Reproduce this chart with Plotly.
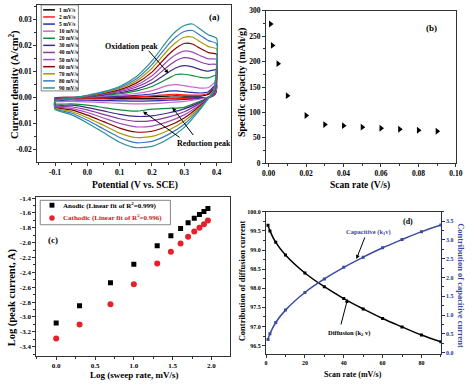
import plotly.graph_objects as go

W, H = 474, 387
FONT = "Liberation Serif"

# ---------------- data ----------------
# (a) cyclic voltammograms
CV_RATES = ["1 mV/s", "2 mV/s", "5 mV/s", "10 mV/s", "20 mV/s", "30 mV/s",
            "40 mV/s", "50 mV/s", "60 mV/s", "70 mV/s", "80 mV/s", "90 mV/s"]
CV_COLORS = ["#000000", "#ff1a1a", "#2b2bb0", "#cc66cc", "#138a3a", "#3a2f88",
             "#8a3aa0", "#a050b8", "#8b0000", "#a89a00", "#3a78c8", "#2a9090"]
E_FWD = [-0.1, -0.05, 0.0, 0.05, 0.1, 0.15, 0.2, 0.25, 0.275, 0.3, 0.325, 0.35, 0.375, 0.4]
E_REV = [0.398, 0.39, 0.375, 0.35, 0.3, 0.25, 0.2, 0.15, 0.1, 0.05, 0.0, -0.05, -0.1]
I_FWD = [
    [-0.0001, 0.0, 0.0, 0.0001, 0.0001, 0.0002, 0.0003, 0.0005, 0.0006, 0.0005, 0.0005, 0.0005, 0.0012, 0.0044],
    [-0.0002, 0.0, 0.0, 0.0001, 0.0002, 0.0004, 0.0006, 0.0011, 0.0012, 0.001, 0.0009, 0.0009, 0.0016, 0.0047],
    [-0.0004, -0.0001, 0.0001, 0.0003, 0.0005, 0.0008, 0.0013, 0.0024, 0.0025, 0.0022, 0.0019, 0.0017, 0.0022, 0.0052],
    [-0.0006, -0.0002, 0.0001, 0.0005, 0.0009, 0.0015, 0.0026, 0.0046, 0.0049, 0.0045, 0.004, 0.0036, 0.0038, 0.0062],
    [-0.0008, -0.0002, 0.0002, 0.0008, 0.0014, 0.0024, 0.0042, 0.0073, 0.0088, 0.0089, 0.0084, 0.0077, 0.0075, 0.0086],
    [-0.0009, -0.0003, 0.0002, 0.001, 0.0018, 0.0031, 0.0055, 0.0096, 0.0114, 0.0122, 0.0117, 0.0107, 0.0101, 0.0106],
    [-0.001, -0.0003, 0.0003, 0.0012, 0.0022, 0.0039, 0.0069, 0.012, 0.0142, 0.0153, 0.0148, 0.0136, 0.0127, 0.0126],
    [-0.0011, -0.0003, 0.0004, 0.0014, 0.0026, 0.0046, 0.0083, 0.0142, 0.0165, 0.0178, 0.0174, 0.016, 0.0148, 0.0146],
    [-0.0012, -0.0003, 0.0005, 0.0016, 0.003, 0.0054, 0.0097, 0.0163, 0.019, 0.0207, 0.0205, 0.0188, 0.0172, 0.0166],
    [-0.0013, -0.0003, 0.0006, 0.0018, 0.0034, 0.0062, 0.0112, 0.0183, 0.0212, 0.0231, 0.0232, 0.0213, 0.0195, 0.0186],
    [-0.0014, -0.0003, 0.0007, 0.002, 0.0038, 0.007, 0.0126, 0.0202, 0.0233, 0.0253, 0.0257, 0.0238, 0.0218, 0.0206],
    [-0.0015, -0.0003, 0.0008, 0.0022, 0.0042, 0.0078, 0.014, 0.0222, 0.0255, 0.0276, 0.0282, 0.0262, 0.024, 0.0227],
]
I_REV = [
    [0.0019, 0.0006, 0.0, -0.0001, -0.0002, -0.0003, -0.0004, -0.0004, -0.0004, -0.0004, -0.0003, -0.0003, -0.0003],
    [0.002, 0.0007, 0.0, -0.0002, -0.0004, -0.0006, -0.0007, -0.0007, -0.0007, -0.0006, -0.0006, -0.0006, -0.0006],
    [0.0022, 0.0008, 0.0, -0.0004, -0.0008, -0.0011, -0.0013, -0.0014, -0.0013, -0.0012, -0.0011, -0.001, -0.001],
    [0.0026, 0.0009, 0.0, -0.0006, -0.0015, -0.002, -0.0024, -0.0025, -0.0023, -0.002, -0.0017, -0.0015, -0.0015],
    [0.0035, 0.0011, -0.0001, -0.0014, -0.0038, -0.0042, -0.0045, -0.0053, -0.0048, -0.0039, -0.003, -0.0025, -0.0024],
    [0.0043, 0.0013, -0.0001, -0.0018, -0.0044, -0.006, -0.0071, -0.0073, -0.0065, -0.0052, -0.0039, -0.003, -0.0028],
    [0.005, 0.0015, -0.0002, -0.0022, -0.0055, -0.0076, -0.0089, -0.0092, -0.0082, -0.0065, -0.0048, -0.0036, -0.0031],
    [0.0058, 0.0017, -0.0002, -0.0027, -0.0067, -0.0093, -0.011, -0.0113, -0.01, -0.0079, -0.0058, -0.0042, -0.0034],
    [0.0066, 0.0019, -0.0002, -0.0031, -0.0079, -0.011, -0.013, -0.0133, -0.0118, -0.0093, -0.0068, -0.0048, -0.0037],
    [0.0074, 0.0021, -0.0003, -0.0036, -0.0091, -0.0127, -0.015, -0.0154, -0.0137, -0.0107, -0.0078, -0.0054, -0.004],
    [0.0082, 0.0023, -0.0003, -0.004, -0.0103, -0.0143, -0.0169, -0.0174, -0.0154, -0.0121, -0.0088, -0.006, -0.0043],
    [0.009, 0.0025, -0.0003, -0.0045, -0.0115, -0.016, -0.0188, -0.0193, -0.0172, -0.0135, -0.0098, -0.0066, -0.0046],
]
A_XTICKS = [-0.1, 0.0, 0.1, 0.2, 0.3, 0.4]
A_XLABELS = ["-0.1", "0.0", "0.1", "0.2", "0.3", "0.4"]
A_YTICKS = [-0.02, -0.01, 0.0, 0.01, 0.02, 0.03]
A_YLABELS = ["-0.02", "-0.01", "0.00", "0.01", "0.02", "0.03"]

# (b) specific capacity vs scan rate
B_SCAN = [0.001, 0.002, 0.005, 0.01, 0.02, 0.03, 0.04, 0.05, 0.06, 0.07, 0.08, 0.09]
B_CAP = [274, 232, 196, 133, 94, 76, 74, 71, 69, 67, 65, 63]
B_XTICKS = [0.0, 0.02, 0.04, 0.06, 0.08, 0.10]
B_XLABELS = ["0.00", "0.02", "0.04", "0.06", "0.08", "0.10"]
B_YTICKS = [0, 50, 100, 150, 200, 250, 300]

# (c) log peak current vs log sweep rate
C_LOGV = [0.0, 0.301, 0.699, 1.0, 1.301, 1.477, 1.602, 1.699, 1.778, 1.845, 1.903, 1.954]
C_ANODIC = [-3.08, -2.85, -2.54, -2.29, -2.04, -1.905, -1.81, -1.73, -1.67, -1.62, -1.58, -1.54]
C_CATHODIC = [-3.29, -3.10, -2.83, -2.56, -2.28, -2.12, -2.01, -1.92, -1.85, -1.80, -1.75, -1.70]
C_XTICKS = [0.0, 0.5, 1.0, 1.5, 2.0]
C_XLABELS = ["0.0", "0.5", "1.0", "1.5", "2.0"]
C_YTICKS = [-3.4, -3.2, -3.0, -2.8, -2.6, -2.4, -2.2, -2.0, -1.8, -1.6, -1.4]
C_YLABELS = ["-3.4", "-3.2", "-3.0", "-2.8", "-2.6", "-2.4", "-2.2", "-2.0", "-1.8", "-1.6", "-1.4"]

# (d) diffusion / capacitive contributions
D_SCAN = [1, 2, 5, 10, 20, 30, 40, 50, 60, 70, 80, 90]
D_DIFF = [99.65, 99.5, 99.2, 98.87, 98.4, 98.04, 97.73, 97.46, 97.21, 96.99, 96.78, 96.6]
D_CAPC = [0.35, 0.5, 0.8, 1.13, 1.6, 1.96, 2.27, 2.54, 2.79, 3.01, 3.22, 3.4]
D_XTICKS = [0, 20, 40, 60, 80]
D_YTICKS = [96.5, 97.0, 97.5, 98.0, 98.5, 99.0, 99.5, 100.0]
D_YLABELS = ["96.5", "97.0", "97.5", "98.0", "98.5", "99.0", "99.5", "100.0"]
D_Y2TICKS = [0.0, 0.5, 1.0, 1.5, 2.0, 2.5, 3.0, 3.5]
D_Y2LABELS = ["0.0", "0.5", "1.0", "1.5", "2.0", "2.5", "3.0", "3.5"]


# ---------------- helpers ----------------
def px(x):
    return x / W


def py(y):
    return 1 - y / H


def dom_x(a, b):
    return [a / W, b / W]


def dom_y(top, bot):
    return [1 - bot / H, 1 - top / H]


AX = "#333333"


def axis(**kw):
    d = dict(showline=True, linecolor=AX, linewidth=1, mirror=True,
             ticks="outside", ticklen=3, tickwidth=1, tickcolor=AX,
             showgrid=False, zeroline=False,
             tickfont=dict(family=FONT, size=7, color="black", weight="bold"))
    d.update(kw)
    return d


fig = go.Figure()

# (a)
for k in range(len(CV_RATES)):
    xs = E_FWD + E_REV + [E_FWD[0]]
    ys = I_FWD[k] + I_REV[k] + [I_FWD[k][0]]
    fig.add_trace(go.Scatter(x=xs, y=ys, mode="lines", name=CV_RATES[k],
                             line=dict(color=CV_COLORS[k], width=1.2, shape="spline", smoothing=0.6),
                             xaxis="x", yaxis="y", showlegend=False, hoverinfo="skip"))

# (b)
fig.add_trace(go.Scatter(x=B_SCAN, y=B_CAP, mode="markers",
                         marker=dict(symbol="triangle-right", size=6, color="black"),
                         xaxis="x2", yaxis="y2", showlegend=False))

# (c)
fig.add_trace(go.Scatter(x=C_LOGV, y=C_ANODIC, mode="markers",
                         marker=dict(symbol="square", size=5, color="black"),
                         xaxis="x3", yaxis="y3", showlegend=False))
fig.add_trace(go.Scatter(x=C_LOGV, y=C_CATHODIC, mode="markers",
                         marker=dict(symbol="circle", size=6, color="#e8202a"),
                         xaxis="x3", yaxis="y3", showlegend=False))

# (d)
BLUE = "#3b4ba0"
fig.add_trace(go.Scatter(x=D_SCAN, y=D_DIFF, mode="lines+markers",
                         line=dict(color="black", width=1.5, shape="spline"),
                         marker=dict(symbol="square", size=3, color="black"),
                         xaxis="x4", yaxis="y4", showlegend=False))
fig.add_trace(go.Scatter(x=D_SCAN, y=D_CAPC, mode="lines+markers",
                         line=dict(color=BLUE, width=1.5, shape="spline"),
                         marker=dict(symbol="square", size=3, color=BLUE),
                         xaxis="x4", yaxis="y5", showlegend=False))

fig.update_layout(
    width=W, height=H, margin=dict(l=0, r=0, t=0, b=0),
    paper_bgcolor="white", plot_bgcolor="white", showlegend=False,
    font=dict(family=FONT, color="black"),
    xaxis=axis(domain=dom_x(34, 232), range=[-0.155, 0.445], anchor="y",
               tickmode="array", tickvals=A_XTICKS, ticktext=A_XLABELS,
               minor=dict(ticks="outside", ticklen=2, tickcolor=AX, tickmode="linear", tick0=-0.15, dtick=0.1),
               tickfont=dict(family=FONT, size=7.5, color="black", weight="bold")),
    yaxis=axis(domain=dom_y(1, 162), range=[-0.0249, 0.0355], anchor="x",
               tickmode="array", tickvals=A_YTICKS, ticktext=A_YLABELS,
               minor=dict(ticks="outside", ticklen=2, tickcolor=AX, tickmode="linear", tick0=-0.025, dtick=0.01),
               tickfont=dict(family=FONT, size=7.5, color="black", weight="bold")),
    xaxis2=axis(domain=dom_x(267.7, 462), range=[-0.0014, 0.1002], anchor="y2",
                tickmode="array", tickvals=B_XTICKS, ticktext=B_XLABELS,
                minor=dict(ticks="outside", ticklen=2, tickcolor=AX, tickmode="linear", tick0=0.01, dtick=0.02),
                tickfont=dict(family=FONT, size=7.5, color="black", weight="bold")),
    yaxis2=axis(domain=dom_y(7, 163), range=[0, 300], anchor="x2",
                tickmode="array", tickvals=B_YTICKS,
                minor=dict(ticks="outside", ticklen=2, tickcolor=AX, tickmode="linear", tick0=25, dtick=50),
                tickfont=dict(family=FONT, size=7.5, color="black", weight="bold")),
    xaxis3=axis(domain=dom_x(33, 231), range=[-0.256, 2.24], anchor="y3",
                tickmode="array", tickvals=C_XTICKS, ticktext=C_XLABELS,
                minor=dict(ticks="outside", ticklen=2, tickcolor=AX, tickmode="linear", tick0=0.25, dtick=0.5)),
    yaxis3=axis(domain=dom_y(198, 360), range=[-3.52, -1.39], anchor="x3",
                tickmode="array", tickvals=C_YTICKS, ticktext=C_YLABELS,
                minor=dict(ticks="outside", ticklen=2, tickcolor=AX, tickmode="linear", tick0=-3.5, dtick=0.2)),
    xaxis4=axis(domain=dom_x(267.7, 446.3), range=[0, 90], anchor="y4",
                tickmode="array", tickvals=D_XTICKS,
                minor=dict(ticks="outside", ticklen=2, tickcolor=AX, tickmode="linear", tick0=10, dtick=20),
                tickfont=dict(family=FONT, size=6, color="black", weight="bold")),
    yaxis4=axis(domain=dom_y(212.7, 358), range=[96.29, 100.0], anchor="x4", mirror=False,
                tickmode="array", tickvals=D_YTICKS, ticktext=D_YLABELS,
                minor=dict(ticks="outside", ticklen=2, tickcolor=AX, tickmode="linear", tick0=96.25, dtick=0.5),
                tickfont=dict(family=FONT, size=6, color="black", weight="bold")),
    yaxis5=axis(overlaying="y4", side="right", anchor="x4", range=[-0.03, 3.75], mirror=False,
                linecolor="#1f2a80", tickcolor="#1f2a80",
                tickmode="array", tickvals=D_Y2TICKS, ticktext=D_Y2LABELS,
                minor=dict(ticks="outside", ticklen=2, tickcolor="#1f2a80", tickmode="linear", tick0=0.25, dtick=0.5),
                tickfont=dict(family=FONT, size=6, color="#2a3590", weight="bold")),
)

ann = []


def text(x, y, t, size, color="black", angle=0, xanchor="center"):
    ann.append(dict(x=px(x), y=py(y), xref="paper", yref="paper", text="<b>" + t + "</b>",
                    showarrow=False, textangle=angle, xanchor=xanchor, yanchor="middle",
                    font=dict(family=FONT, size=size, color=color)))


def arrow(tail, tip, color="black"):
    ann.append(dict(x=px(tip[0]), y=py(tip[1]), xref="paper", yref="paper", text="",
                    showarrow=True, ax=tail[0] - tip[0], ay=tail[1] - tip[1],
                    arrowhead=2, arrowsize=0.8, arrowwidth=1, arrowcolor=color))


# axis titles
text(10, 82, "Current density (A/cm<sup>2</sup>)", 10.5, angle=-90)
text(134, 186, "Potential (V vs. SCE)", 9.5)
text(243, 80, "Specific capacity (mAh/g)", 10, angle=-90)
text(364, 186, "Scan rate (V/s)", 9.5)
text(8.5, 300, "Log (peak current, A)", 10.5, angle=-90)
text(133, 380, "Log (sweep rate, mV/s)", 9)
text(244, 283, "Contribution of diffusion current", 8.5, angle=-90)
text(467, 288, "Contribution of capacitive current", 8.5, color="#3a4aa0", angle=90)
text(357, 379, "Scan rate (mV/s)", 8)

# panel labels
text(215, 13, "(a)", 9)
text(437, 25, "(b)", 9)
text(50, 242, "(c)", 9)
text(413, 223, "(d)", 8)

# (a) annotations
text(130, 43, "Oxidation peak", 8)
arrow((147, 47), (168, 71))
text(204, 143, "Reduction peak", 8)
arrow((180, 137), (142, 110))
arrow((194, 135), (172, 106))

# (d) annotations
text(372, 233, "Capacitive (k<sub>1</sub>v)", 6.5, color=BLUE)
arrow((369, 238), (360, 261), color="black")
text(352, 337, "Diffusion (k<sub>2</sub> v)", 6.5)
arrow((344, 329), (351, 302))

# (a) legend (drawn manually: compact rows)
shapes = [dict(type="rect", xref="paper", yref="paper", x0=px(38), x1=px(76), y0=py(89), y1=py(1),
               line=dict(color="#666", width=0.8))]
for k, lab in enumerate(CV_RATES):
    yy = 6 + k * 7.27
    shapes.append(dict(type="line", xref="paper", yref="paper", x0=px(40), x1=px(52), y0=py(yy), y1=py(yy),
                       line=dict(color=CV_COLORS[k], width=1.5)))
    text(54, yy, lab, 5.5, xanchor="left")

# (c) legend
shapes.append(dict(type="rect", xref="paper", yref="paper", x0=px(37), x1=px(170), y0=py(226), y1=py(201),
                   line=dict(color="#666", width=0.8)))
shapes.append(dict(type="rect", xref="paper", yref="paper", x0=px(46.5), x1=px(51.5), y0=py(208.5), y1=py(203.5),
                   fillcolor="black", line=dict(width=0)))
shapes.append(dict(type="circle", xref="paper", yref="paper", x0=px(46.2), x1=px(51.8), y0=py(221.8), y1=py(216.2),
                   fillcolor="#e8202a", line=dict(width=0)))
text(58, 206, "Anodic (Linear fit of R<sup>2</sup>=0.999)", 7, xanchor="left")
text(58, 219, "Cathodic (Linear fit of R<sup>2</sup>=0.996)", 7, color="#d01818", xanchor="left")

fig.update_layout(annotations=ann, shapes=shapes)
fig.write_html("out.html", config={"displayModeBar": False},
               post_script="document.body.style.margin='0';document.body.style.padding='0';")
